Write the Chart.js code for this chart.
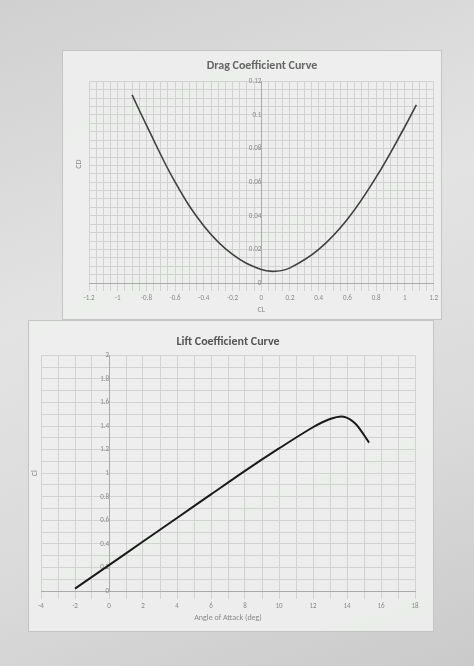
<!DOCTYPE html>
<html><head>
<script src="https://cdn.jsdelivr.net/npm/chart.js@4"></script>
<style>
body{margin:0;width:474px;height:666px;background:linear-gradient(160deg,#cfd0cf 0%,#e2e3e2 40%,#d9dad9 70%,#c9cac9 100%);position:relative;overflow:hidden;font-family:Calibri,"Liberation Sans",sans-serif}
.box{position:absolute;background:rgba(238,239,238,0.9);border:1px solid #c4c4c4}
canvas{display:block}
</style></head><body>
<div class="box" style="left:62px;top:50px;width:378px;height:268px"><canvas id="c1" width="378" height="268"></canvas></div>
<div class="box" style="left:28px;top:320px;width:404px;height:310px"><canvas id="c2" width="404" height="310"></canvas></div>
<script>
const dragCL=[-0.9,-0.8,-0.6,-0.4,-0.2,0,0.1,0.2,0.4,0.6,0.8,1.0,1.08];
const dragCD=[0.112,0.094,0.060,0.034,0.017,0.008,0.007,0.009,0.020,0.038,0.063,0.093,0.106];
const liftAoA=[-2,0,2,4,6,8,10,12,13,13.8,14.5,15.3];
const liftCl=[0.02,0.22,0.42,0.62,0.82,1.02,1.21,1.39,1.46,1.48,1.42,1.26];
const grey='#8a8a8a', grid='#d2d2d2';
function pts(xs,ys){return xs.map((x,i)=>({x,y:ys[i]}));}
function lab(v,major,dec){const r=Math.round(v/major);return Math.abs(v-r*major)<1e-6?(+v.toFixed(dec)).toString():'';}
Chart.defaults.font.family='Calibri, "Liberation Sans", sans-serif';
new Chart(document.getElementById('c1'),{type:'scatter',
data:{datasets:[{data:pts(dragCL,dragCD),showLine:true,tension:0.4,borderColor:'#404040',borderWidth:1.6,pointRadius:0}]},
options:{responsive:false,animation:false,devicePixelRatio:1,layout:{padding:{left:26,right:6,top:4,bottom:4}},
plugins:{legend:{display:false},title:{display:true,text:'Drag Coefficient Curve',color:'#666',font:{size:12},padding:{top:4,bottom:8}}},
scales:{x:{type:'linear',min:-1.2,max:1.2,ticks:{stepSize:0.05,autoSkip:false,maxRotation:0,color:grey,font:{size:7},callback:v=>lab(v,0.2,1)},grid:{color:grid},border:{color:'#aaa'},title:{display:true,text:'CL',color:grey,font:{size:8},padding:0}},
y:{position:{x:0},min:0,max:0.12,ticks:{stepSize:0.005,autoSkip:false,color:grey,font:{size:7},callback:v=>lab(v,0.02,2)},grid:{color:grid},border:{color:'#aaa'}}}},
plugins:[{id:'yt',afterDraw(c){const x=c.ctx;x.save();x.fillStyle=grey;x.font='8px Calibri, Liberation Sans';x.translate(c.chartArea.left-8,(c.chartArea.top+c.chartArea.bottom)/2-18);x.rotate(-Math.PI/2);x.textAlign='center';x.fillText('CD',0,0);x.restore();}}]
});
new Chart(document.getElementById('c2'),{type:'scatter',
data:{datasets:[{data:pts(liftAoA,liftCl),showLine:true,tension:0.3,borderColor:'#1a1a1a',borderWidth:2,pointRadius:0}]},
options:{responsive:false,animation:false,devicePixelRatio:1,layout:{padding:{left:12,right:18,top:4,bottom:8}},
plugins:{legend:{display:false},title:{display:true,text:'Lift Coefficient Curve',color:'#555',font:{size:12},padding:{top:10,bottom:6}}},
scales:{x:{type:'linear',min:-4,max:18,ticks:{stepSize:1,autoSkip:false,maxRotation:0,color:grey,font:{size:7},callback:v=>lab(v,2,0)},grid:{color:grid},border:{color:'#aaa'},title:{display:true,text:'Angle of Attack (deg)',color:grey,font:{size:8},padding:0}},
y:{position:{x:0},min:0,max:2,ticks:{stepSize:0.1,autoSkip:false,color:grey,font:{size:7},callback:v=>lab(v,0.2,1)},grid:{color:grid},border:{color:'#aaa'}}}},
plugins:[{id:'yt2',afterDraw(c){const x=c.ctx;x.save();x.fillStyle=grey;x.font='8px Calibri, Liberation Sans';x.translate(8,(c.chartArea.top+c.chartArea.bottom)/2);x.rotate(-Math.PI/2);x.textAlign='center';x.fillText('Cl',0,0);x.restore();}}]
});
</script>
</body></html>
